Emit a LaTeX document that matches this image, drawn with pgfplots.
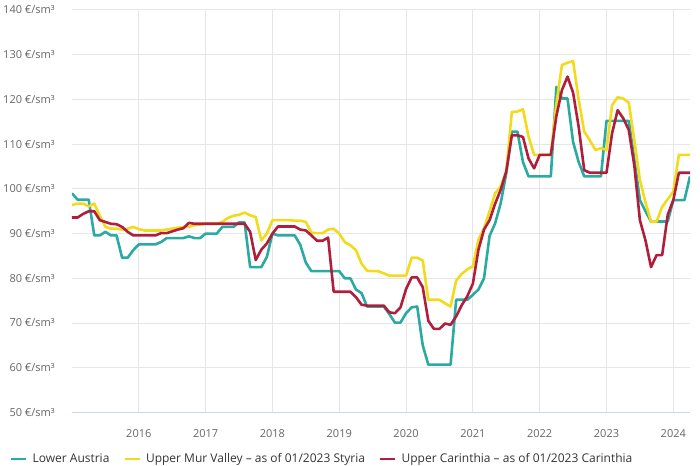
\documentclass[border=0pt]{standalone}
\usepackage{pgfplots}
\pgfplotsset{compat=1.18}
\usepackage{fontspec}
\setmainfont{Open Sans}

\definecolor{lowaus}{HTML}{2AAAA2}
\definecolor{murval}{HTML}{F2DA1C}
\definecolor{carin}{HTML}{B01E3C}
\definecolor{gridc}{HTML}{E6E6E6}
\definecolor{axisc}{HTML}{CCD6EB}
\definecolor{ticktext}{HTML}{666666}
\definecolor{legtext}{HTML}{333333}

% Monthly prices in EUR per solid cubic metre, month 0 = January 2015
\pgfplotstableread{
m val
0 99.0
1 97.6
2 97.6
3 97.6
4 89.6
5 89.6
6 90.4
7 89.6
8 89.6
9 84.6
10 84.6
11 86.3
12 87.6
13 87.6
14 87.6
15 87.6
16 88.1
17 89.0
18 89.0
19 89.0
20 89.0
21 89.4
22 89.0
23 89.0
24 90.0
25 90.0
26 90.0
27 91.5
28 91.5
29 91.5
30 92.5
31 92.5
32 82.5
33 82.5
34 82.5
35 84.8
36 90.0
37 89.6
38 89.6
39 89.6
40 89.6
41 87.5
42 83.5
43 81.6
44 81.6
45 81.6
46 81.6
47 81.6
48 81.6
49 80.0
50 80.0
51 77.5
52 76.7
53 73.7
54 73.7
55 73.7
56 73.7
57 72.0
58 70.1
59 70.1
60 72.2
61 73.5
62 73.7
63 65.0
64 60.7
65 60.7
66 60.7
67 60.7
68 60.7
69 75.2
70 75.2
71 75.2
72 76.3
73 77.5
74 80.0
75 89.5
76 92.3
77 96.8
78 103.5
79 112.8
80 112.8
81 106.0
82 102.8
83 102.8
84 102.8
85 102.8
86 102.8
87 122.8
88 120.2
89 120.2
90 110.5
91 106.0
92 102.8
93 102.8
94 102.8
95 102.8
96 115.2
97 115.2
98 115.2
99 115.2
100 115.2
101 106.5
102 97.5
103 95.0
104 92.7
105 92.7
106 92.7
107 92.7
108 97.5
109 97.5
110 97.5
111 102.8
}\loweraustria

\pgfplotstableread{
m val
0 96.4
1 96.7
2 96.7
3 96.1
4 96.7
5 94.0
6 91.5
7 91.1
8 91.1
9 90.9
10 91.1
11 91.5
12 91.0
13 90.7
14 90.7
15 90.7
16 90.7
17 90.9
18 91.1
19 91.3
20 91.5
21 91.5
22 91.9
23 92.0
24 92.2
25 92.2
26 92.2
27 92.6
28 93.5
29 94.0
30 94.2
31 94.7
32 94.1
33 93.7
34 88.5
35 90.0
36 93.0
37 93.0
38 93.0
39 93.0
40 92.9
41 92.9
42 92.6
43 90.2
44 90.1
45 90.1
46 90.9
47 91.1
48 90.0
49 88.1
50 87.4
51 86.3
52 83.3
53 81.7
54 81.6
55 81.6
56 81.1
57 80.6
58 80.6
59 80.6
60 80.6
61 84.6
62 84.6
63 84.0
64 75.2
65 75.2
66 75.2
67 74.4
68 73.7
69 79.5
70 81.0
71 82.0
72 82.7
73 88.6
74 91.2
75 95.0
76 99.0
77 100.5
78 104.0
79 117.2
80 117.3
81 117.8
82 111.7
83 107.6
84 107.6
85 107.6
86 107.6
87 119.0
88 127.7
89 128.2
90 128.6
91 120.0
92 112.8
93 110.9
94 108.7
95 109.1
96 108.7
97 118.7
98 120.5
99 120.2
100 119.3
101 110.9
102 102.0
103 97.0
104 92.7
105 92.7
106 96.0
107 97.7
108 99.4
109 107.6
110 107.6
111 107.6
}\murvalley

\pgfplotstableread{
m val
0 93.6
1 93.6
2 94.4
3 95.0
4 95.0
5 93.0
6 92.6
7 92.2
8 92.1
9 91.5
10 90.4
11 89.6
12 89.6
13 89.6
14 89.6
15 89.6
16 90.1
17 90.1
18 90.5
19 90.9
20 91.2
21 92.4
22 92.2
23 92.2
24 92.2
25 92.2
26 92.2
27 92.2
28 92.2
29 92.2
30 92.2
31 92.2
32 90.4
33 84.1
34 86.4
35 87.8
36 90.0
37 91.6
38 91.6
39 91.6
40 91.6
41 90.9
42 90.7
43 89.6
44 88.4
45 88.4
46 89.1
47 77.0
48 77.0
49 77.0
50 77.0
51 75.8
52 74.1
53 73.9
54 73.9
55 73.9
56 73.9
57 72.4
58 72.2
59 73.5
60 77.6
61 80.2
62 80.2
63 78.0
64 70.5
65 68.7
66 68.7
67 69.9
68 69.6
69 71.5
70 74.0
71 76.0
72 78.8
73 86.4
74 90.9
75 93.0
76 96.7
77 99.8
78 103.9
79 112.0
80 112.0
81 111.6
82 106.8
83 104.6
84 107.6
85 107.6
86 107.6
87 116.3
88 122.1
89 125.1
90 121.5
91 113.9
92 104.2
93 103.6
94 103.6
95 103.6
96 103.6
97 112.4
98 117.6
99 115.8
100 113.2
101 105.2
102 93.0
103 88.5
104 82.5
105 85.2
106 85.2
107 94.2
108 97.5
109 103.6
110 103.6
111 103.6
}\carinthia

\begin{document}
\begin{tikzpicture}
\path[use as bounding box] (-72pt,-52.5pt) rectangle (628pt,412.5pt);
\begin{axis}[
  at={(0pt,0pt)}, anchor=south west,
  scale only axis, width=618pt, height=402.5pt,
  xmin=0, xmax=111, ymin=50, ymax=140,
  xtick={12,24,36,48,60,72,84,96,108},
  xticklabels={2016,2017,2018,2019,2020,2021,2022,2023,2024},
  ytick={50,60,70,80,90,100,110,120,130,140},
  yticklabels={50 €/sm³,60 €/sm³,70 €/sm³,80 €/sm³,90 €/sm³,100 €/sm³,110 €/sm³,120 €/sm³,130 €/sm³,140 €/sm³},
  grid=major,
  major grid style={gridc, line width=1pt},
  major tick length=0pt,
  axis line style={draw=none},
  tick label style={font=\fontsize{11}{13}\selectfont, text=ticktext},
  yticklabel style={anchor=east, inner sep=0pt, xshift=-17pt},
  xticklabel style={anchor=base, inner sep=0pt, yshift=-24.5pt},
  every axis plot/.append style={line width=2.6pt, line join=round, no markers},
  legend columns=3,
  legend image code/.code={\draw[#1, line cap=butt] (0pt,0pt) -- (15pt,0pt);},
  legend style={draw=none, fill=none, at={(0,0)}, anchor=west,
    xshift=-62pt, yshift=-46.5pt, inner sep=0pt, outer sep=0pt,
    font=\fontsize{12}{14}\selectfont, text=legtext,
    nodes={inner sep=0pt},
    /tikz/every odd column/.append style={column sep=5pt},
    /tikz/every even column/.append style={column sep=14pt}},
]
\addplot[lowaus] table[x=m, y=val] {\loweraustria};
\addlegendentry{Lower Austria}
\addplot[murval] table[x=m, y=val] {\murvalley};
\addlegendentry{Upper Mur Valley – as of 01/2023 Styria}
\addplot[carin] table[x=m, y=val] {\carinthia};
\addlegendentry{Upper Carinthia – as of 01/2023 Carinthia}
\draw[axisc, line width=1pt] (rel axis cs:0,0) -- (rel axis cs:1,0);
\end{axis}
\end{tikzpicture}
\end{document}
